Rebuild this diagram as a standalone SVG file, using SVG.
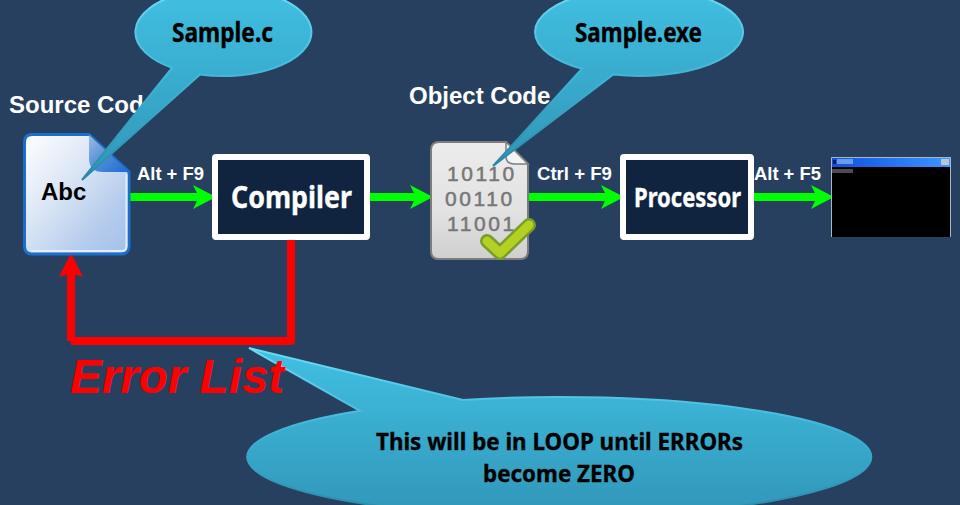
<svg xmlns="http://www.w3.org/2000/svg" width="960" height="505" viewBox="0 0 960 505">
<style>
.lbl{font-family:"Liberation Sans",Arial,sans-serif;font-weight:700;fill:#fff}
.cal{font-family:"Noto Sans","Open Sans",sans-serif;font-weight:700;stroke-width:.35}
.call{fill:url(#cf);stroke:url(#cs);stroke-width:2}
.box{fill:#10233f;stroke:#fff;stroke-width:6;stroke-linejoin:round}
.gr{fill:none;stroke:#0f0;stroke-width:8;marker-end:url(#ga)}
.dig{font-family:"Liberation Sans",Arial,sans-serif;font-weight:400;font-size:21px;letter-spacing:2.6px;fill:#777;stroke:#777;stroke-width:.5}
</style>
<defs>
<linearGradient id="cf" x1="0" y1="0" x2="0" y2="1"><stop offset="0" stop-color="#41c0e2"/><stop offset="1" stop-color="#3196b8"/></linearGradient>
<linearGradient id="cs" x1="0" y1="0" x2="0" y2="1"><stop offset="0" stop-color="#6fdcf6"/><stop offset=".5" stop-color="#3db4d6"/><stop offset="1" stop-color="#2b86a6"/></linearGradient>
<linearGradient id="doc" x1="0" y1="0" x2="1" y2="1"><stop offset="0" stop-color="#fff"/><stop offset=".4" stop-color="#dbe6f5"/><stop offset=".75" stop-color="#b4cbec"/><stop offset="1" stop-color="#a4c1e8"/></linearGradient>
<linearGradient id="fold" x1="0" y1="0" x2="1" y2="1"><stop offset="0" stop-color="#9cbde6"/><stop offset=".55" stop-color="#4a88d6"/><stop offset="1" stop-color="#1c6cd0"/></linearGradient>
<linearGradient id="obj" x1="0" y1="0" x2="0" y2="1"><stop offset="0" stop-color="#ececec"/><stop offset=".6" stop-color="#e2e2e2"/><stop offset="1" stop-color="#cfcfcf"/></linearGradient>
<linearGradient id="tb" x1="0" y1="0" x2="1" y2="0"><stop offset="0" stop-color="#0f4fe0"/><stop offset="1" stop-color="#3f96ff"/></linearGradient>
<marker id="ga" markerUnits="userSpaceOnUse" markerWidth="24" markerHeight="26" refX="10" refY="12" orient="auto" overflow="visible"><path d="M0 0L23 12L0 24L6 12Z" fill="#0f0"/></marker>
<marker id="ra" markerUnits="userSpaceOnUse" markerWidth="26" markerHeight="26" refX="12" refY="12" orient="auto" overflow="visible"><path d="M0 0L24 12L0 24L4 12Z" fill="#f00"/></marker>
</defs>
<rect width="960" height="505" fill="#274060"/>
<g id="connectors">
<path class="gr" d="M127 197H203"/>
<path class="gr" d="M370 197H420"/>
<path class="gr" d="M528 197H611"/>
<path class="gr" d="M754 197H821"/>
<path d="M291 237V341H71M71 341V265" fill="none" stroke="#f00" stroke-width="8" stroke-linejoin="round" marker-end="url(#ra)"/>
</g>
<g id="source-code">
<text class="lbl" x="9" y="113" font-size="24">Source Code</text>
<path d="M32 134.500H89L129 172V246Q129 254 121 254H32Q24.500 254 24.500 246V142Q24.500 134.500 32 134.500Z" fill="url(#doc)" stroke="#1b6fca" stroke-width="3"/>
<path d="M31 251H122Q126.500 251 126.500 246V174" stroke="#e4edf9" stroke-width="2" fill="none"/>
<path d="M89 135L129 172H103Q89 172 89 158Z" fill="url(#fold)"/>
<text x="41" y="200" font-family="Liberation Sans,Arial,sans-serif" font-weight="700" font-size="24" fill="#000">Abc</text>
</g>
<g id="compiler">
<rect class="box" x="215" y="157" width="152" height="80" rx="1"/>
<text class="cal" x="231" y="208" font-size="30" fill="#fff" stroke="#fff" textLength="121" lengthAdjust="spacingAndGlyphs">Compiler</text>
</g>
<g id="object-code">
<text class="lbl" x="409" y="104" font-size="24">Object Code</text>
<path d="M439 142H506L528 164V251Q528 259 520 259H439Q431 259 431 251V150Q431 142 439 142Z" fill="url(#obj)" stroke="#7d7d7d" stroke-width="2"/>
<path d="M506 142V156Q506 164 514 164H528Z" fill="#f4f4f4" stroke="#7d7d7d" stroke-width="1.5"/>
<text class="dig" x="447" y="181">10110</text>
<text class="dig" x="445" y="206">00110</text>
<text class="dig" x="447" y="231">11001</text>
<path d="M487 241L500 253L529 225" fill="none" stroke="#7a9e2a" stroke-width="14" stroke-linecap="round" stroke-linejoin="round"/>
<path d="M487 241L500 253L529 225" fill="none" stroke="#b4d022" stroke-width="9" stroke-linecap="round" stroke-linejoin="round"/>
</g>
<g id="processor">
<rect class="box" x="623" y="157" width="128" height="80" rx="1"/>
<text class="cal" x="634" y="207" font-size="26" fill="#fff" stroke="#fff" textLength="107" lengthAdjust="spacingAndGlyphs">Processor</text>
</g>
<g id="output-window">
<rect x="831" y="157" width="120" height="80" fill="#000"/>
<rect x="831" y="157" width="120" height="10" fill="url(#tb)"/>
<path d="M831.500 237V157.500H950.500V237" fill="none" stroke="#a9b8c9" stroke-width="1"/>
<rect x="833" y="160" width="3" height="4" fill="#10204a"/>
<rect x="837" y="159" width="16" height="5" fill="#a8c8f0" opacity=".6"/>
<rect x="941" y="159" width="8" height="6" fill="#b9c6d6"/>
<rect x="832" y="169" width="21" height="4" fill="#999" opacity=".5"/>
</g>
<g id="edge-labels">
<text class="lbl" x="137" y="180" font-size="18.400">Alt + F9</text>
<text class="lbl" x="537" y="180" font-size="18.600">Ctrl + F9</text>
<text class="lbl" x="754" y="180" font-size="18.400">Alt + F5</text>
</g>
<g id="callout-sample-c">
<path class="call" d="M172 67.800L82 180L200 74.500A88 44 0 1 0 172 67.800Z"/>
<text class="cal" x="172" y="42" font-size="26" fill="#000" stroke="#000" textLength="101" lengthAdjust="spacingAndGlyphs">Sample.c</text>
</g>
<g id="callout-sample-exe">
<path class="call" d="M582 68.800L493 166L613 74.600A104 44 0 1 0 582 68.800Z"/>
<text class="cal" x="575" y="42" font-size="26" fill="#000" stroke="#000" textLength="127" lengthAdjust="spacingAndGlyphs">Sample.exe</text>
</g>
<g id="callout-loop">
<path class="call" d="M360 410.800L249 348L463 399.900A312 60 0 1 1 360 410.800Z"/>
<text class="cal" x="376" y="450" font-size="24" fill="#000" stroke="#000" textLength="367" lengthAdjust="spacingAndGlyphs">This will be in LOOP until ERRORs</text>
<text class="cal" x="483" y="482" font-size="24" fill="#000" stroke="#000" textLength="152" lengthAdjust="spacingAndGlyphs">become ZERO</text>
</g>
<text x="70" y="393" font-family="Liberation Sans,Arial,sans-serif" font-weight="700" font-style="italic" font-size="47.600" fill="#f00">Error List</text>
</svg>
